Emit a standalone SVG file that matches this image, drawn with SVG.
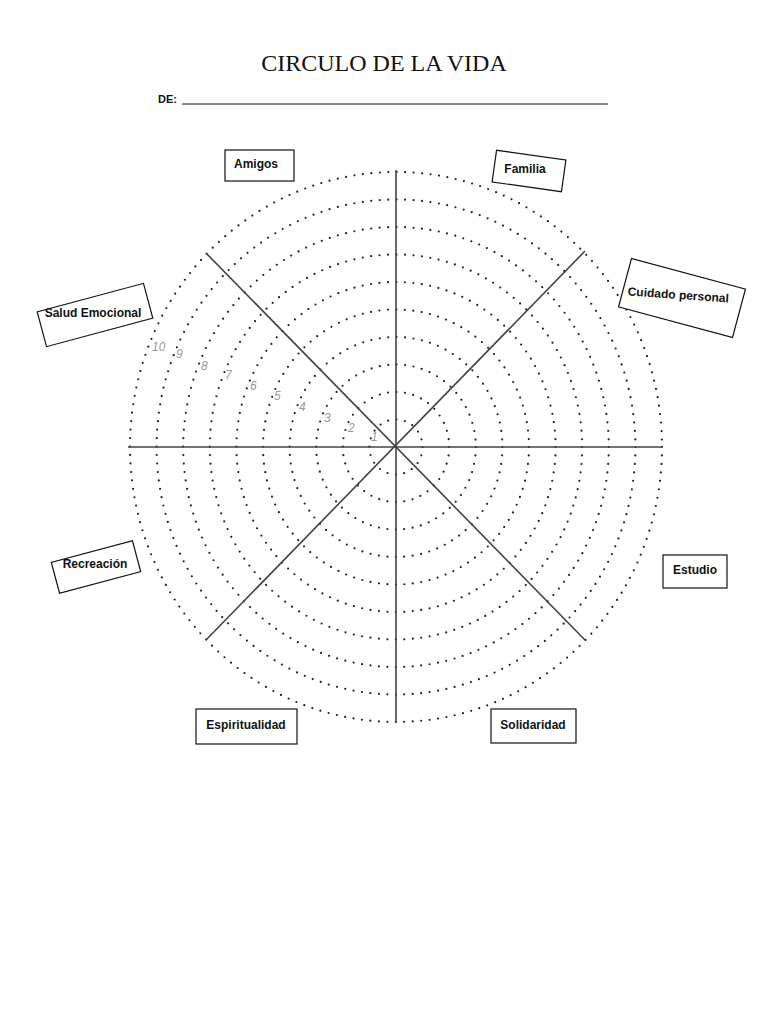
<svg xmlns="http://www.w3.org/2000/svg" width="768" height="1024" viewBox="0 0 768 1024">
<style>
.r{fill:none;stroke:#222;stroke-width:2.2;stroke-linecap:round;stroke-dasharray:0 8.5}
.a{stroke:#444;stroke-width:1.6}
.b{fill:#fff;stroke:#111;stroke-width:1.2}
.t{font-family:"Liberation Sans",Arial,sans-serif;font-size:12px;font-weight:bold;fill:#111;text-anchor:middle}
.n{font-family:"Liberation Sans",Arial,sans-serif;font-size:12px;font-style:italic;fill:#999}
</style>
<rect width="768" height="1024" fill="#fff"/>
<text x="384" y="71" font-family="Liberation Serif,serif" font-size="24" text-anchor="middle" fill="#111">CIRCULO DE LA VIDA</text>
<text x="158" y="103" font-family="Liberation Sans,Arial,sans-serif" font-size="11" font-weight="bold" fill="#111">DE:</text>
<line x1="182" y1="104" x2="608" y2="104" stroke="#111" stroke-width="1"/>
<g id="rings">
<ellipse class="r" cx="396" cy="447" rx="26.6" ry="27.5"/>
<ellipse class="r" cx="396" cy="447" rx="53.2" ry="55"/>
<ellipse class="r" cx="396" cy="447" rx="79.8" ry="82.5"/>
<ellipse class="r" cx="396" cy="447" rx="106.4" ry="110"/>
<ellipse class="r" cx="396" cy="447" rx="133" ry="137.5"/>
<ellipse class="r" cx="396" cy="447" rx="159.6" ry="165"/>
<ellipse class="r" cx="396" cy="447" rx="186.2" ry="192.5"/>
<ellipse class="r" cx="396" cy="447" rx="212.8" ry="220"/>
<ellipse class="r" cx="396" cy="447" rx="239.4" ry="247.5"/>
<ellipse class="r" cx="396" cy="447" rx="266" ry="275"/>
</g>
<g id="connectors">
<line class="a" x1="396" y1="170" x2="396" y2="722"/>
<line class="a" x1="128" y1="447" x2="663" y2="447"/>
<line class="a" x1="206" y1="253" x2="585" y2="640"/>
<line class="a" x1="585" y1="251" x2="206" y2="640"/>
</g>
<g id="numbers">
<text class="n" x="152" y="351">10</text><text class="n" x="176" y="358">9</text>
<text class="n" x="201" y="370">8</text><text class="n" x="225" y="379">7</text>
<text class="n" x="250" y="390">6</text><text class="n" x="274" y="400">5</text>
<text class="n" x="299" y="411">4</text><text class="n" x="324" y="422">3</text>
<text class="n" x="348" y="432">2</text><text class="n" x="371" y="441">1</text>
</g>
<g id="amigos"><rect class="b" x="225" y="150" width="69" height="31"/><text class="t" x="256" y="168">Amigos</text></g>
<g id="familia"><rect class="b" x="494" y="155" width="70" height="32" transform="rotate(8 529 171)"/><text class="t" x="525" y="173">Familia</text></g>
<g id="cuidado"><rect class="b" x="623" y="273" width="118" height="50" transform="rotate(15 682 298)"/><text class="t" x="678" y="299" transform="rotate(4 678 299)">Cuidado personal</text></g>
<g id="salud"><rect class="b" x="40" y="297" width="110" height="36" transform="rotate(-15 95 315)"/><text class="t" x="93" y="317">Salud Emocional</text></g>
<g id="recreacion"><rect class="b" x="54" y="551" width="84" height="32" transform="rotate(-15 96 567)"/><text class="t" x="95" y="568">Recreación</text></g>
<g id="estudio"><rect class="b" x="663" y="555" width="64" height="33"/><text class="t" x="695" y="574">Estudio</text></g>
<g id="espiritualidad"><rect class="b" x="196" y="709" width="101" height="35"/><text class="t" x="246" y="729">Espiritualidad</text></g>
<g id="solidaridad"><rect class="b" x="491" y="709" width="85" height="34"/><text class="t" x="533" y="729">Solidaridad</text></g>
</svg>
